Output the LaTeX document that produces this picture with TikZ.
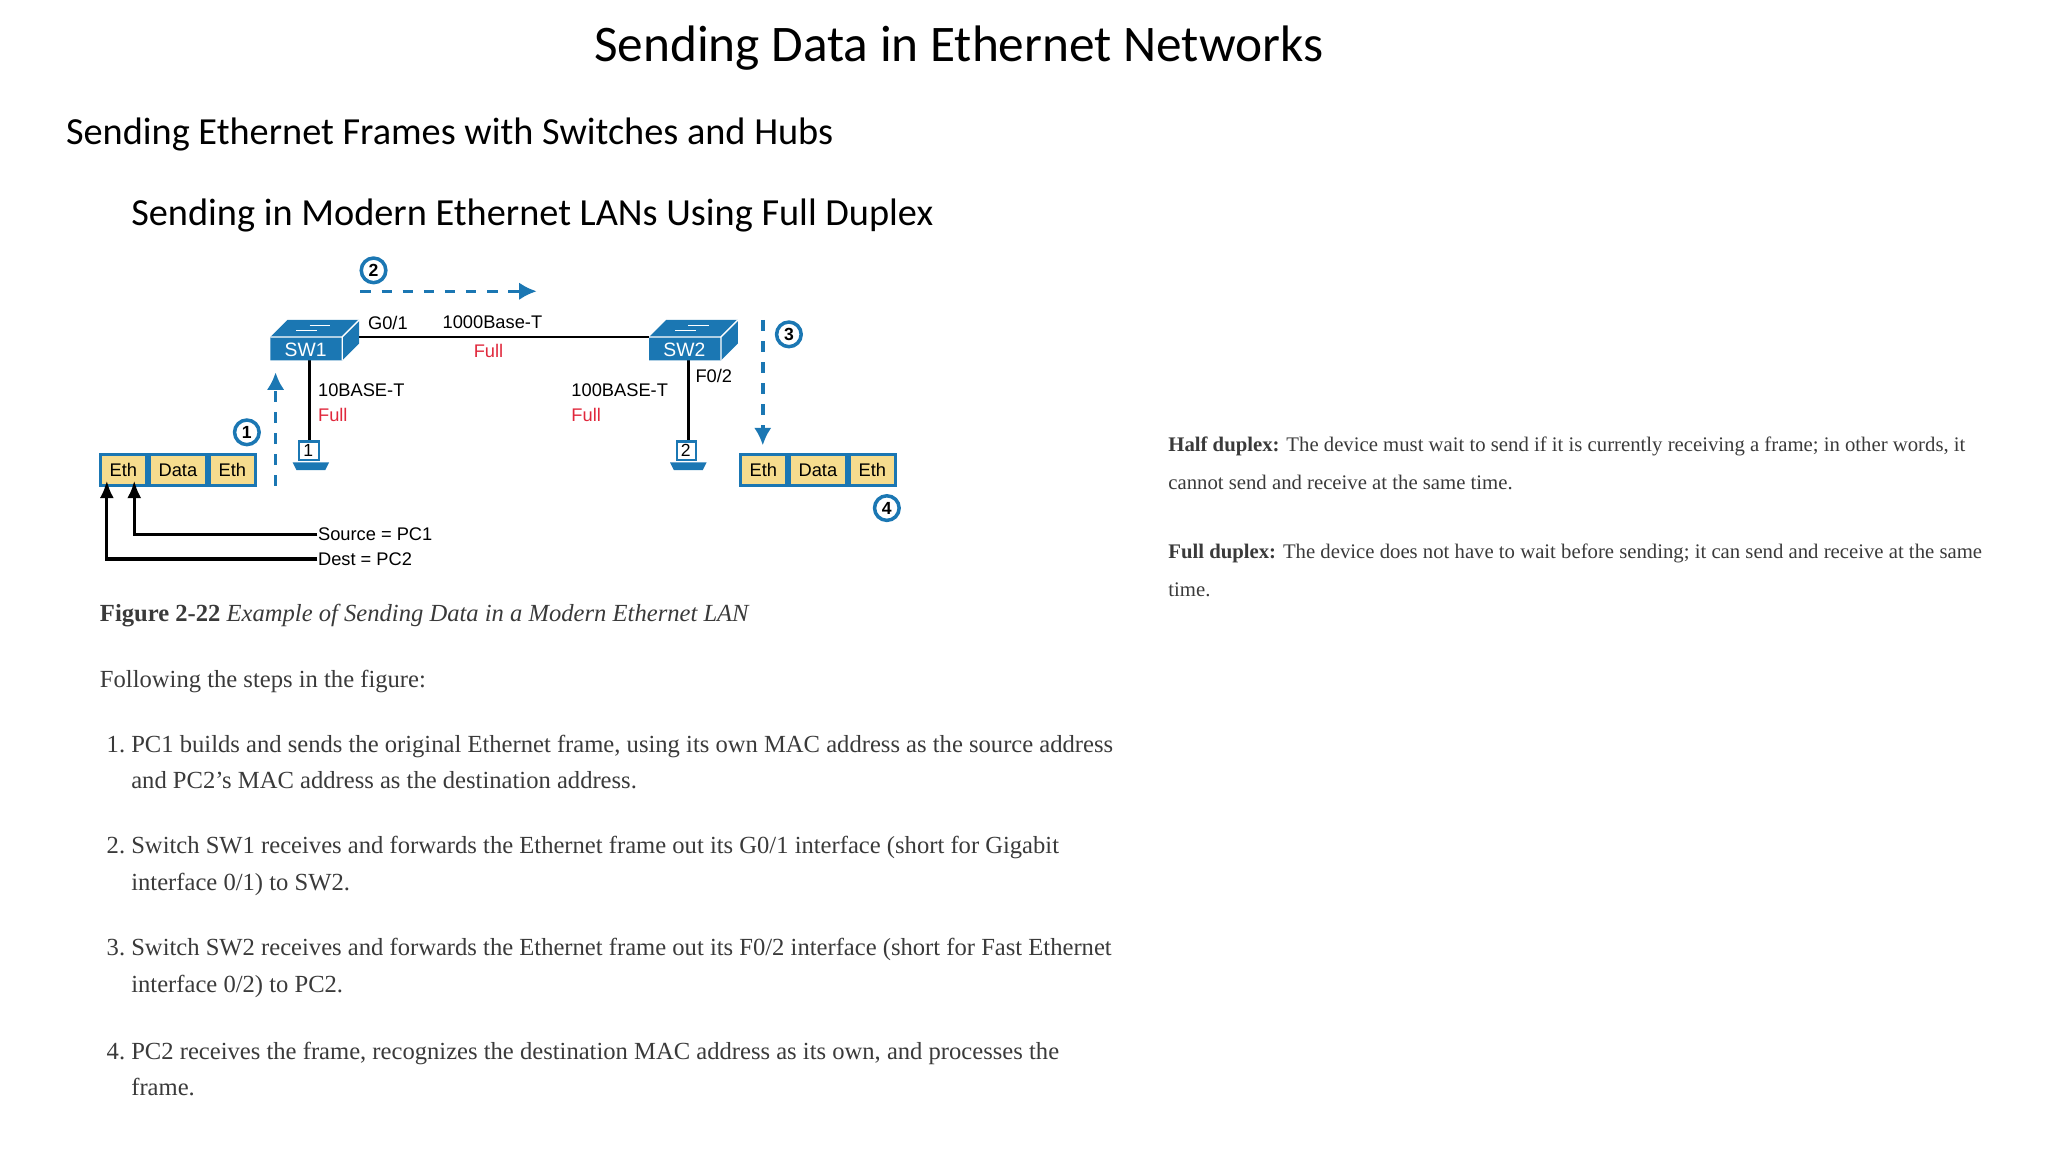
\documentclass[tikz,border=0pt]{standalone}
\usepackage{fontspec}
\setmainfont{Liberation Serif}
\newfontfamily\titlefont{Carlito}
\newfontfamily\labelfont{Liberation Sans}
\usetikzlibrary{positioning,arrows.meta,calc}
\definecolor{ciscoblue}{HTML}{1B77B3}
\definecolor{framefill}{HTML}{F6DC8E}
\definecolor{fullred}{HTML}{E0283C}
\definecolor{bodygrey}{HTML}{3A3A3A}
\tikzset{
  stepmark/.style={circle, draw=ciscoblue, line width=1pt, inner sep=0.6pt, minimum size=7pt, font=\labelfont\bfseries\fontsize{5}{5}\selectfont},
  flow/.style={ciscoblue, dashed, line width=1pt, -{Latex[length=5pt,width=5pt]}},
  lbl/.style={font=\labelfont\fontsize{5.2}{6}\selectfont, inner sep=0},
  red lbl/.style={lbl, text=fullred},
  field/.style={draw=ciscoblue, fill=framefill, line width=0.8pt, font=\labelfont\fontsize{5.2}{6}\selectfont, minimum height=8.8pt, minimum width=13.1pt, inner sep=0},
  para/.style={font=\fontsize{7}{10.4}\selectfont, text=bodygrey, align=left, anchor=north west, inner sep=0},
}
\newcommand{\switchbox}[2]{%
  \fill[ciscoblue] (#1) -- ++(0,-18) -- ++(13,-13) -- ++(55,0) -- ++(0,18) -- ++(-13,13) -- cycle;
  \draw[white, line width=0.4pt] (#1) ++(0,-18) -- ++(55,0) -- ++(13,-13) (#1) ++(55,-18) -- ++(0,18);
  \draw[white, line width=0.4pt] (#1) ++(20,-23) -- ++(16,0) (#1) ++(30,-27) -- ++(16,0);
  \node[font=\labelfont\fontsize{5.5}{6}\selectfont, text=white, inner sep=0] at ($(#1)+(27,-8)$) {#2};}
\newcommand{\pcicon}[2]{%
  \draw[ciscoblue, fill=white, line width=0.6pt] (#1) ++(-9,0) rectangle ++(15,-14);
  \node[font=\labelfont\fontsize{5}{5}\selectfont, inner sep=0] at ($(#1)+(-2,-7)$) {#2};
  \fill[ciscoblue] (#1) ++(-14,2) -- ++(28,0) -- ++(-3,6) -- ++(-22,0) -- cycle;}
\begin{document}
\begin{tikzpicture}[x=0.013061cm, y=-0.013061cm]
  \useasboundingbox (0,0) rectangle (1568,882);

  %Titles
  \node[font=\titlefont\fontsize{14.6}{16}\selectfont] (title) at (734,37) {Sending Data in Ethernet Networks};
  \node[font=\titlefont\fontsize{10.9}{12}\selectfont, anchor=west, inner sep=0] (sub) at (50,103) {Sending Ethernet Frames with Switches and Hubs};
  \node[font=\titlefont\fontsize{10.9}{12}\selectfont, anchor=west, inner sep=0] (subsub) at (100,165) {Sending in Modern Ethernet LANs Using Full Duplex};

  %Switches and links
  \coordinate (sw1) at (207,276);
  \coordinate (sw2) at (497,276);
  \draw[line width=0.7pt] (275,258) -- (497,258);
  \draw[line width=0.7pt] (237,276) -- (237,340);
  \draw[line width=0.7pt] (527,276) -- (527,340);
  \switchbox{sw1}{SW1}
  \switchbox{sw2}{SW2}
  \coordinate (pc1) at (238,352);
  \coordinate (pc2) at (527,352);
  \pcicon{pc1}{1}
  \pcicon{pc2}{2}

  %Labels
  \node[lbl] (g01) at (297,247) {G0/1};
  \node[lbl] (gig) at (377,247) {1000Base-T};
  \node[red lbl] (full1) at (374,269) {Full};
  \node[lbl, anchor=west] (ten) at (243,299) {10BASE-T};
  \node[red lbl, anchor=west] (full2) at (243,318) {Full};
  \node[lbl, anchor=west] (hundred) at (437,299) {100BASE-T};
  \node[red lbl, anchor=west] (full3) at (437,318) {Full};
  \node[lbl, anchor=west] (f02) at (532,288) {F0/2};

  %Steps
  \node[stepmark] (s2) at (286,207) {2};
  \coordinate (a2s) at (276,223);
  \coordinate (a2e) at (411,223);
  \draw[flow] (a2s) -- (a2e);
  \node[stepmark] (s1) at (189,331) {1};
  \coordinate (a1s) at (211,372);
  \coordinate (a1e) at (211,285);
  \draw[flow] (a1s) -- (a1e);
  \node[stepmark] (s3) at (604,256) {3};
  \coordinate (a3s) at (584,245);
  \coordinate (a3e) at (584,341);
  \draw[flow] (a3s) -- (a3e);
  \node[stepmark] (s4) at (679,389) {4};

  %Frames
  \node[field] (eth1) at (94.5,360) {Eth};
  \node[field, minimum width=16.3pt, right=0 of eth1] (data1) {Data};
  \node[field, right=0 of data1] (eth2) {Eth};
  \node[field] (eth3) at (584.5,360) {Eth};
  \node[field, minimum width=16.3pt, right=0 of eth3] (data2) {Data};
  \node[field, right=0 of data2] (eth4) {Eth};

  %Addresses
  \node[lbl, anchor=west] (src) at (243,409) {Source = PC1};
  \node[lbl, anchor=west] (dst) at (243,428) {Dest = PC2};
  \draw[line width=0.9pt, -{Latex[length=5pt,width=4pt]}] (src.west) -| ($(eth1.south west)+(27,-5)$);
  \draw[line width=0.9pt, -{Latex[length=5pt,width=4pt]}] (dst.west) -| ($(eth1.south west)+(6,-5)$);

  %Text
  \node[para, anchor=west] (cap) at (76,471) {\textbf{Figure 2-22} \textit{Example of Sending Data in a Modern Ethernet LAN}};
  \node[para, anchor=west] (follow) at (76,522) {Following the steps in the figure:};
  \node[para] (st1) at (100,562) {\llap{1.\ }PC1 builds and sends the original Ethernet frame, using its own MAC address as the source address\\and PC2’s MAC address as the destination address.};
  \node[para] (st2) at (100,640) {\llap{2.\ }Switch SW1 receives and forwards the Ethernet frame out its G0/1 interface (short for Gigabit\\interface 0/1) to SW2.};
  \node[para] (st3) at (100,718) {\llap{3.\ }Switch SW2 receives and forwards the Ethernet frame out its F0/2 interface (short for Fast Ethernet\\interface 0/2) to PC2.};
  \node[para] (st4) at (100,797) {\llap{4.\ }PC2 receives the frame, recognizes the destination MAC address as its own, and processes the\\frame.};
  \node[para, font=\fontsize{5.9}{10.9}\selectfont] (half) at (894,334) {\textbf{Half duplex:} The device must wait to send if it is currently receiving a frame; in other words, it\\cannot send and receive at the same time.};
  \node[para, font=\fontsize{5.9}{10.9}\selectfont] (fullp) at (894,416) {\textbf{Full duplex:} The device does not have to wait before sending; it can send and receive at the same\\time.};
\end{tikzpicture}
\end{document}
